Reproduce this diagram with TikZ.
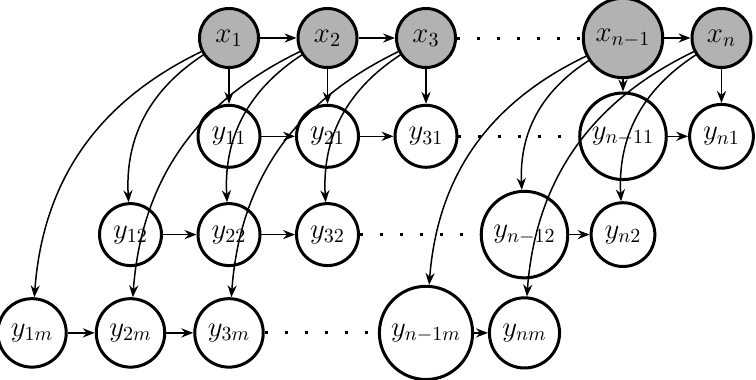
\documentclass[tikz,border=0pt]{standalone}
\usetikzlibrary{arrows.meta}
\tikzset{
  var/.style={circle, draw, line width=1.5pt, minimum size=29.5pt, inner sep=4.2pt,
              font=\fontsize{14}{16}\selectfont},
  obs/.style={var, fill=black!30},
  arr/.style={-{Stealth[length=6pt,width=4.6pt,inset=2pt]}, line width=0.75pt},
  dotline/.style={line width=1.5pt, dash pattern=on 1.5pt off 8.5pt},
}
\begin{document}
\begin{tikzpicture}
\useasboundingbox (0,0) rectangle (378pt,-190pt);
\begin{scope}[shift={(16pt,-19pt)}, x=49.25pt, y=-49.15pt]
  % observed row
  \node[obs] (x1) at (2,0) {$x_1$};
  \node[obs] (x2) at (3,0) {$x_2$};
  \node[obs] (x3) at (4,0) {$x_3$};
  \node[obs] (xa) at (6,0) {$x_{n-1}$};
  \node[obs] (xn) at (7,0) {$x_n$};
  % row 1
  \node[var] (y11) at (2,1) {$y_{11}$};
  \node[var] (y21) at (3,1) {$y_{21}$};
  \node[var] (y31) at (4,1) {$y_{31}$};
  \node[var] (ya1) at (6,1) {$y_{n-11}$};
  \node[var] (yn1) at (7,1) {$y_{n1}$};
  % row 2
  \node[var] (y12) at (1,2) {$y_{12}$};
  \node[var] (y22) at (2,2) {$y_{22}$};
  \node[var] (y32) at (3,2) {$y_{32}$};
  \node[var] (ya2) at (5,2) {$y_{n-12}$};
  \node[var] (yn2) at (6,2) {$y_{n2}$};
  % row m
  \node[var] (y1m) at (0,3) {$y_{1m}$};
  \node[var] (y2m) at (1,3) {$y_{2m}$};
  \node[var] (y3m) at (2,3) {$y_{3m}$};
  \node[var] (yam) at (4,3) {$y_{n-1m}$};
  \node[var] (ynm) at (5,3) {$y_{nm}$};
\end{scope}
% horizontal arrows
\draw[arr] (x1) -- (x2);
\draw[arr] (x2) -- (x3);
\draw[arr] (xa) -- (xn);
\draw[arr] (y11) -- (y21);
\draw[arr] (y21) -- (y31);
\draw[arr] (ya1) -- (yn1);
\draw[arr] (y12) -- (y22);
\draw[arr] (y22) -- (y32);
\draw[arr] (ya2) -- (yn2);
\draw[arr] (y1m) -- (y2m);
\draw[arr] (y2m) -- (y3m);
\draw[arr] (yam) -- (ynm);
% dotted gaps
\draw[dotline] (x3) -- (xa);
\draw[dotline] (y31) -- (ya1);
\draw[dotline] (y32) -- (ya2);
\draw[dotline] (y3m) -- (yam);
% vertical arrows
\draw[arr] (x1) -- (y11);
\draw[arr] (x2) -- (y21);
\draw[arr] (x3) -- (y31);
\draw[arr] (xa) -- (ya1);
\draw[arr] (xn) -- (yn1);
% curved arrows
\draw[arr] (x1) to[bend right] (y12);
\draw[arr] (x1) to[bend right] (y1m);
\draw[arr] (x2) to[bend right] (y22);
\draw[arr] (x2) to[bend right] (y2m);
\draw[arr] (x3) to[bend right] (y32);
\draw[arr] (x3) to[bend right] (y3m);
\draw[arr] (xa) to[bend right] (ya2);
\draw[arr] (xa) to[bend right] (yam);
\draw[arr] (xn) to[bend right] (yn2);
\draw[arr] (xn) to[bend right] (ynm);
\end{tikzpicture}
\end{document}
